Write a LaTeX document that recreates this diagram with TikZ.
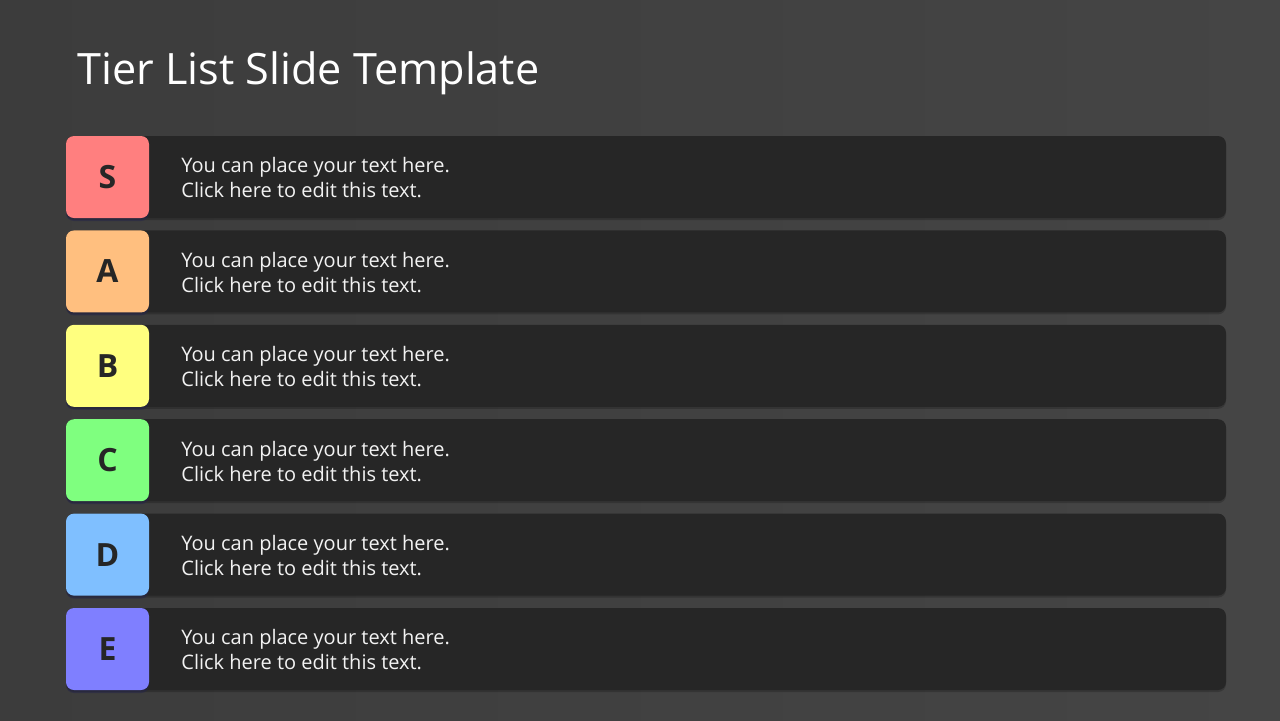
\documentclass[tikz,border=0pt]{standalone}
\usepackage{fontspec}
\setmainfont{Open Sans}
\usetikzlibrary{positioning}
\usetikzlibrary{shadows}

\definecolor{slidebg}{HTML}{454545}
\definecolor{slidebgdark}{HTML}{3C3C3C}
\definecolor{barbg}{HTML}{262626}
\definecolor{lettercol}{HTML}{262626}
\definecolor{textcol}{HTML}{F2F2F2}
\definecolor{boxshadow}{HTML}{24244A}
\definecolor{tierS}{HTML}{FF7F7F}
\definecolor{tierA}{HTML}{FFBF7F}
\definecolor{tierB}{HTML}{FFFF7F}
\definecolor{tierC}{HTML}{7FFF7F}
\definecolor{tierD}{HTML}{7FBFFF}
\definecolor{tierE}{HTML}{7F7FFF}

\tikzset{
  slidetitle/.style={text=white, font=\fontsize{21.6}{26}\selectfont, inner sep=0pt},
  tierbar/.style={fill=barbg, rounded corners=4pt, minimum width=580pt, minimum height=41pt,
    inner sep=0pt, drop shadow={shadow xshift=0pt, shadow yshift=-1pt, opacity=0.2, fill=black}},
  tierbox/.style={rounded corners=4pt, minimum width=41.5pt, minimum height=41pt, inner sep=0pt,
    text=lettercol, font=\fontsize{16}{19}\selectfont\bfseries,
    drop shadow={shadow xshift=0pt, shadow yshift=-1.5pt, opacity=0.5, fill=boxshadow}},
  tiertext/.style={text=textcol, align=left, inner sep=0pt, font=\fontsize{10}{12.5}\selectfont},
}

\begin{document}
\begin{tikzpicture}[x=0.5pt,y=-0.5pt]
  \useasboundingbox (0,0) rectangle (1280,720);
  \shade[left color=slidebgdark, right color=slidebg] (0,0) rectangle (1280,720);
  \node[slidetitle, anchor=base west] (title) at (77,84) {Tier List Slide Template};
  % one row per tier
  \foreach \n/\l [count=\i from 0] in {s/S,a/A,b/B,c/C,d/D,e/E} {
    \pgfmathsetmacro\ymid{177+94.4*\i}
    \node[tierbar] (bar\n) at (646,\ymid) {};
    \node[tierbox, fill=tier\l] (box\n) at (107.5,\ymid) {\l};
    \node[tiertext, anchor=west] (text\n) at (181,\ymid+1) {You can place your text here.\\Click here to edit this text.};
  }
\end{tikzpicture}
\end{document}
